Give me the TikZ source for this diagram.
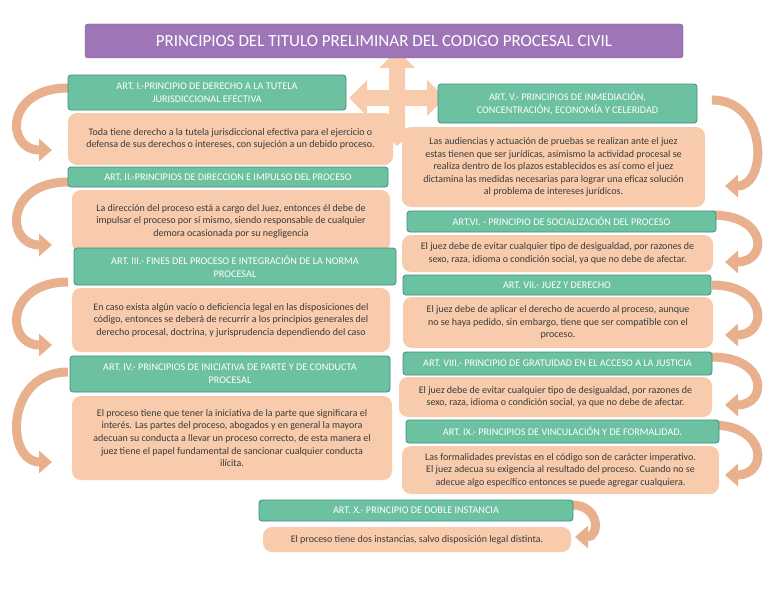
\documentclass[tikz,border=0pt]{standalone}
\usepackage{fontspec}
\setmainfont{Carlito}
\usetikzlibrary{arrows.meta}
\definecolor{teal}{HTML}{6CC1A0}
\definecolor{tealb}{HTML}{3F8C83}
\definecolor{peach}{HTML}{F8CBAD}
\definecolor{peachb}{HTML}{E8B08C}
\definecolor{purp}{HTML}{9E76B8}
\definecolor{txt}{HTML}{3A3A3A}
\tikzset{
 hdr/.style={fill=teal,draw=tealb,line width=0.8pt,rounded corners=3pt,text=white,font=\fontsize{10.2}{13}\selectfont,align=center,inner sep=1pt},
 bdy/.style={fill=peach,draw=none,rounded corners=9pt,text=txt,font=\fontsize{10}{12.6}\selectfont,align=center,inner sep=1pt},
 carrow/.style={draw=peachb,line width=9pt,-{Triangle[width=22pt,length=13pt]}},
}
\newcommand{\bx}[5]{\node[#1,minimum width=#4-#2,minimum height=#5-#3] at ({(#2+#4)/2},{(#3+#5)/2})}
\begin{document}
\begin{tikzpicture}[x=1pt,y=-1pt]
\useasboundingbox (0,0) rectangle (768,594);
% curved arrows left
\foreach \a/\b [count=\i] in {88/150,182/245,282/345,372/462}{
 \coordinate (la\i) at (68,\a); \coordinate (lb\i) at (52,\b);
 \draw[carrow] (la\i) .. controls (5,\a) and (5,\b) .. (lb\i);}
% curved arrows right
\foreach \a/\b [count=\i] in {100/186,215/262,285/335,357/405,425/475}{
 \coordinate (ra\i) at (712,\a); \coordinate (rb\i) at (725,\b);
 \draw[carrow] (ra\i) .. controls (768,\a) and (768,\b) .. (rb\i);}
\coordinate (xa) at (572,505); \coordinate (xb) at (575,537);
\draw[carrow] (xa) .. controls (600,505) and (600,537) .. (xb);
% quad arrow
\fill[peach] (397,98)
 ++(-8,-8) -- ++(0,-22) -- ++(-10,0) -- ++(18,-18) -- ++(18,18) -- ++(-10,0) -- ++(0,22)
 -- ++(22,0) -- ++(0,-10) -- ++(18,18) -- ++(-18,18) -- ++(0,-10) -- ++(-22,0)
 -- ++(0,22) -- ++(10,0) -- ++(-18,18) -- ++(-18,-18) -- ++(10,0) -- ++(0,-22)
 -- ++(-22,0) -- ++(0,10) -- ++(-18,-18) -- ++(18,-18) -- ++(0,10) -- cycle;
% title
\bx{fill=purp,draw=purp!70!black,rounded corners=3pt,text=white,font=\fontsize{17}{20}\selectfont}{85}{24}{683}{58} (t) {PRINCIPIOS DEL TITULO PRELIMINAR DEL CODIGO PROCESAL CIVIL};
% left
\bx{hdr}{68}{75}{346}{110} (h1) {ART. I.-PRINCIPIO DE DERECHO A LA TUTELA\\JURISDICCIONAL EFECTIVA};
\bx{bdy}{68}{113}{393}{165} (b1) {Toda tiene derecho a la tutela jurisdiccional efectiva para el ejercicio o\\defensa de sus derechos o intereses, con sujeción a un debido proceso.};
\bx{hdr}{68}{167}{388}{187} (h2) {ART. II.-PRINCIPIOS DE DIRECCION E IMPULSO DEL PROCESO};
\bx{bdy}{72}{190}{390}{252} (b2) {La dirección del proceso está a cargo del Juez, entonces él debe de\\impulsar el proceso por sí mismo, siendo responsable de cualquier\\demora ocasionada por su negligencia};
\bx{hdr}{74}{248}{396}{285} (h3) {ART. III.- FINES DEL PROCESO E INTEGRACIÓN DE LA NORMA\\PROCESAL};
\bx{bdy}{72}{288}{390}{352} (b3) {En caso exista algún vacío o deficiencia legal en las disposiciones del\\código, entonces se deberá de recurrir a los principios generales del\\derecho procesal, doctrina, y jurisprudencia dependiendo del caso};
\bx{hdr}{70}{356}{390}{392} (h4) {ART. IV.-  PRINCIPIOS DE INICIATIVA DE PARTE Y DE CONDUCTA\\PROCESAL};
\bx{bdy}{72}{396}{392}{480} (b4) {El proceso tiene que tener la iniciativa de la parte que significara el\\interés. Las partes del proceso, abogados y en general la mayora\\adecuan su conducta a llevar un proceso correcto, de esta manera el\\juez tiene el papel fundamental de sancionar cualquier conducta\\ilícita.};
% right
\bx{hdr}{438}{84}{697}{123} (h5) {ART. V.- PRINCIPIOS DE INMEDIACIÓN,\\CONCENTRACIÓN, ECONOMÍA Y CELERIDAD};
\bx{bdy}{402}{127}{705}{207} (b5) {Las audiencias y actuación de pruebas se realizan ante el juez\\estas tienen que ser jurídicas, asimismo la actividad procesal se\\realiza dentro de los plazos establecidos es así como el juez\\dictamina las medidas necesarias para lograr una eficaz solución\\al problema de intereses jurídicos.};
\bx{hdr}{407}{211}{716}{232} (h6) {ART.VI. - PRINCIPIO DE SOCIALIZACIÓN DEL PROCESO};
\bx{bdy}{402}{235}{713}{272} (b6) {El juez debe de evitar cualquier tipo de desigualdad, por razones de\\sexo, raza, idioma o condición social, ya que no debe de afectar.};
\bx{hdr}{403}{275}{711}{295} (h7) {ART. VII.-  JUEZ Y DERECHO};
\bx{bdy}{403}{297}{713}{348} (b7) {El juez debe de aplicar el derecho de acuerdo al proceso, aunque\\no se haya pedido, sin embargo, tiene que ser compatible con el\\proceso.};
\bx{hdr}{403}{352}{712}{375} (h8) {ART. VIII.- PRINCIPIO DE GRATUIDAD EN EL ACCESO A LA JUSTICIA};
\bx{bdy}{399}{377}{712}{417} (b8) {El juez debe de evitar cualquier tipo de desigualdad, por razones de\\sexo, raza, idioma o condición social, ya que no debe de afectar.};
\bx{hdr}{406}{420}{719}{443} (h9) {ART. IX.- PRINCIPIOS DE VINCULACIÓN Y DE FORMALIDAD.};
\bx{bdy}{402}{446}{719}{494} (b9) {Las formalidades previstas en el código son de carácter imperativo.\\El juez adecua su exigencia al resultado del proceso. Cuando no se\\adecue algo específico entonces se puede agregar cualquiera.};
\bx{hdr}{259}{500}{573}{521} (h10) {ART. X.- PRINCIPIO DE DOBLE INSTANCIA};
\bx{bdy}{263}{527}{571}{552} (b10) {El proceso tiene dos instancias, salvo disposición legal distinta.};
\end{tikzpicture}
\end{document}
